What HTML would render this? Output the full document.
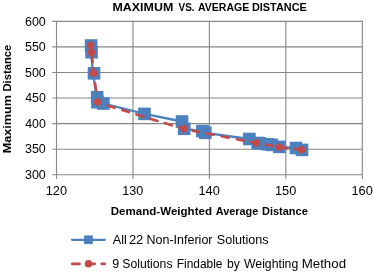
<!DOCTYPE html>
<html><head><meta charset="utf-8"><title>Maximum vs. Average Distance</title>
<style>
html,body{margin:0;padding:0;background:#fff;}
body{width:373px;height:272px;overflow:hidden;}
svg{display:block;}
text{font-family:"Liberation Sans",sans-serif;fill:#000;}
</style></head><body>
<svg width="373" height="272" viewBox="0 0 373 272">
<rect width="373" height="272" fill="#fff"/>

<g stroke="#868686" stroke-width="1.1" fill="none">
<line x1="52.3" y1="174.75" x2="362.8" y2="174.75"/>
<line x1="52.3" y1="149.18" x2="362.8" y2="149.18"/>
<line x1="52.3" y1="123.61" x2="362.8" y2="123.61"/>
<line x1="52.3" y1="98.04" x2="362.8" y2="98.04"/>
<line x1="52.3" y1="72.47" x2="362.8" y2="72.47"/>
<line x1="52.3" y1="46.90" x2="362.8" y2="46.90"/>
<line x1="52.3" y1="21.33" x2="362.8" y2="21.33"/>
<line x1="56.50" y1="20.8" x2="56.50" y2="179.1"/>
<line x1="132.95" y1="20.8" x2="132.95" y2="179.1"/>
<line x1="209.40" y1="20.8" x2="209.40" y2="179.1"/>
<line x1="285.85" y1="20.8" x2="285.85" y2="179.1"/>
<line x1="362.30" y1="20.8" x2="362.30" y2="179.1"/>
</g>
<polyline points="91.1,45.5 90.9,52.2 93.1,73.3 96.5,97.2 97.5,102.3 103.4,103.5 144.6,113.9 182.0,121.5 184.2,128.8 202.4,131.1 205.3,132.8 249.4,139.0 257.7,143.0 260.0,143.4 268.0,144.3 272.0,144.9 279.4,146.9 296.0,148.0 302.0,149.9" fill="none" stroke="#4c80be" stroke-width="2.3" stroke-linejoin="round" stroke-linecap="round"/>
<g fill="#4c80be">
<rect x="84.8" y="39.2" width="12.6" height="12.6"/>
<rect x="85.2" y="45.9" width="12.6" height="12.6"/>
<rect x="87.7" y="67.0" width="12.6" height="12.6"/>
<rect x="90.9" y="90.9" width="12.6" height="12.6"/>
<rect x="91.2" y="96.0" width="12.6" height="12.6"/>
<rect x="97.1" y="97.2" width="12.6" height="12.6"/>
<rect x="138.2" y="107.6" width="12.6" height="12.6"/>
<rect x="175.7" y="115.2" width="12.6" height="12.6"/>
<rect x="177.9" y="122.5" width="12.6" height="12.6"/>
<rect x="196.1" y="124.8" width="12.6" height="12.6"/>
<rect x="199.0" y="126.5" width="12.6" height="12.6"/>
<rect x="243.1" y="132.7" width="12.6" height="12.6"/>
<rect x="251.4" y="136.7" width="12.6" height="12.6"/>
<rect x="253.7" y="137.1" width="12.6" height="12.6"/>
<rect x="261.7" y="138.0" width="12.6" height="12.6"/>
<rect x="265.7" y="138.6" width="12.6" height="12.6"/>
<rect x="273.1" y="140.6" width="12.6" height="12.6"/>
<rect x="289.7" y="141.7" width="12.6" height="12.6"/>
<rect x="295.7" y="143.6" width="12.6" height="12.6"/>
</g>
<g stroke="#c44a4a" stroke-width="2.6" fill="none" stroke-linecap="round">
<line x1="90.8" y1="46.4" x2="91.5" y2="51.6"/>
<line x1="91.7" y1="53.6" x2="92.6" y2="62.3"/>
<line x1="93.2" y1="68.4" x2="93.6" y2="72.3"/>
<line x1="95.0" y1="83.2" x2="96.1" y2="90.6"/>
<line x1="97.3" y1="99.8" x2="97.5" y2="101.0"/>
<line x1="107.9" y1="105.7" x2="114.6" y2="107.8"/>
<line x1="122.2" y1="110.1" x2="128.8" y2="112.1"/>
<line x1="136.4" y1="114.4" x2="143.6" y2="116.7"/>
<line x1="150.3" y1="118.7" x2="157.5" y2="120.9"/>
<line x1="164.6" y1="123.1" x2="171.8" y2="125.3"/>
<line x1="179.2" y1="127.5" x2="183.0" y2="128.7"/>
<line x1="192.6" y1="130.7" x2="198.8" y2="131.9"/>
<line x1="206.6" y1="133.4" x2="213.6" y2="134.8"/>
<line x1="221.6" y1="136.3" x2="228.7" y2="137.7"/>
<line x1="236.9" y1="139.3" x2="243.7" y2="140.6"/>
<line x1="251.0" y1="142.0" x2="255.5" y2="142.9"/>
<line x1="265.8" y1="144.6" x2="272.9" y2="146.0"/>
<line x1="280.4" y1="147.3" x2="287.4" y2="148.1"/>
<line x1="295.1" y1="149.0" x2="300.6" y2="149.6"/>
</g>
<g fill="#c44a4a">
<circle cx="90.7" cy="45.4" r="3.7"/>
<circle cx="91.6" cy="52.6" r="3.7"/>
<circle cx="93.7" cy="73.3" r="3.7"/>
<circle cx="97.6" cy="102.0" r="3.7"/>
<circle cx="184.0" cy="128.7" r="3.7"/>
<circle cx="256.5" cy="142.9" r="3.7"/>
<circle cx="279.4" cy="147.2" r="3.7"/>
<circle cx="301.6" cy="149.7" r="3.7"/>
</g>
<text y="10.50" font-size="11.0" font-weight="bold"><tspan x="112.48" textLength="60.79" lengthAdjust="spacingAndGlyphs">MAXIMUM</tspan> <tspan x="178.49" textLength="16.06" lengthAdjust="spacingAndGlyphs">VS.</tspan> <tspan x="198.0" textLength="51.26" lengthAdjust="spacingAndGlyphs">AVERAGE</tspan> <tspan x="251.99" textLength="54.77" lengthAdjust="spacingAndGlyphs">DISTANCE</tspan></text>
<text y="215.00" font-size="11.0" font-weight="bold"><tspan x="110.74" textLength="101.27" lengthAdjust="spacingAndGlyphs">Demand-Weighted</tspan> <tspan x="215.74" textLength="42.51" lengthAdjust="spacingAndGlyphs">Average</tspan> <tspan x="261.98" textLength="45.77" lengthAdjust="spacingAndGlyphs">Distance</tspan></text>
<text transform="rotate(-90)" y="11.3" font-size="11.2" font-weight="bold"><tspan x="-153.27" textLength="58.29" lengthAdjust="spacingAndGlyphs">Maximum</tspan> <tspan x="-91.51" textLength="46.77" lengthAdjust="spacingAndGlyphs">Distance</tspan></text>
<text y="243.70" font-size="12.0"><tspan x="112.75" textLength="14.05" lengthAdjust="spacingAndGlyphs">All</tspan> <tspan x="128.93" textLength="14.39" lengthAdjust="spacingAndGlyphs">22</tspan> <tspan x="146.49" textLength="66.02" lengthAdjust="spacingAndGlyphs">Non-Inferior</tspan> <tspan x="216.74" textLength="51.78" lengthAdjust="spacingAndGlyphs">Solutions</tspan></text>
<text y="267.50" font-size="12.0"><tspan x="112.15" textLength="6.97" lengthAdjust="spacingAndGlyphs">9</tspan> <tspan x="122.24" textLength="50.27" lengthAdjust="spacingAndGlyphs">Solutions</tspan> <tspan x="176.72" textLength="45.79" lengthAdjust="spacingAndGlyphs">Findable</tspan> <tspan x="226.94" textLength="12.82" lengthAdjust="spacingAndGlyphs">by</tspan> <tspan x="244.0" textLength="54.26" lengthAdjust="spacingAndGlyphs">Weighting</tspan> <tspan x="301.69" textLength="44.35" lengthAdjust="spacingAndGlyphs">Method</tspan></text>
<text x="24.96" y="178.95" font-size="12.0" textLength="20.82" lengthAdjust="spacingAndGlyphs">300</text>
<text x="24.96" y="153.38" font-size="12.0" textLength="20.82" lengthAdjust="spacingAndGlyphs">350</text>
<text x="25.23" y="127.81" font-size="12.0" textLength="20.54" lengthAdjust="spacingAndGlyphs">400</text>
<text x="25.23" y="102.24" font-size="12.0" textLength="20.54" lengthAdjust="spacingAndGlyphs">450</text>
<text x="24.96" y="76.67" font-size="12.0" textLength="20.82" lengthAdjust="spacingAndGlyphs">500</text>
<text x="24.96" y="51.10" font-size="12.0" textLength="20.82" lengthAdjust="spacingAndGlyphs">550</text>
<text x="24.96" y="25.53" font-size="12.0" textLength="20.82" lengthAdjust="spacingAndGlyphs">600</text>
<text x="45.68" y="195.40" font-size="12.0" textLength="21.35" lengthAdjust="spacingAndGlyphs">120</text>
<text x="122.19" y="195.40" font-size="12.0" textLength="21.09" lengthAdjust="spacingAndGlyphs">130</text>
<text x="198.42" y="195.40" font-size="12.0" textLength="21.38" lengthAdjust="spacingAndGlyphs">140</text>
<text x="274.94" y="195.40" font-size="12.0" textLength="21.35" lengthAdjust="spacingAndGlyphs">150</text>
<text x="351.43" y="195.40" font-size="12.0" textLength="21.36" lengthAdjust="spacingAndGlyphs">160</text>
<line x1="72.1" y1="239.8" x2="104.8" y2="239.8" stroke="#4c80be" stroke-width="2.3" stroke-linecap="round"/>
<rect x="84.1" y="235.4" width="8.7" height="8.7" fill="#4c80be"/>
<g stroke="#c44a4a" stroke-width="2.6" stroke-linecap="round"><line x1="72.1" y1="263.85" x2="79.6" y2="263.85"/><line x1="87" y1="263.85" x2="94.7" y2="263.85"/><line x1="101.7" y1="263.85" x2="104.8" y2="263.85"/></g>
<circle cx="88.5" cy="263.8" r="3.8" fill="#c44a4a"/>
</svg></body></html>
